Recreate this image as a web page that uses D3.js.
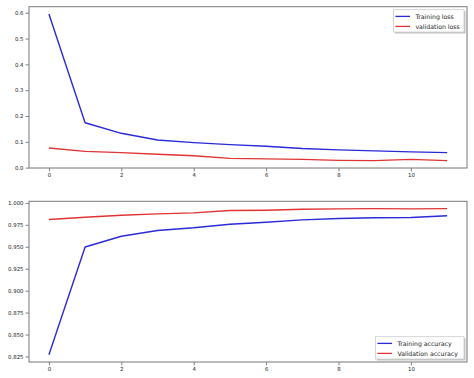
<!DOCTYPE html>
<html>
<head>
<meta charset="utf-8">
<script src="https://cdn.jsdelivr.net/npm/d3@7"></script>
<style>
  html, body { margin: 0; padding: 0; background: #fff; }
  svg { display: block; }
  text { font-family: "DejaVu Sans", sans-serif; fill: #222; }
</style>
</head>
<body>
<svg id="chart" width="474" height="378"></svg>
<script>
const epochs = [0, 1, 2, 3, 4, 5, 6, 7, 8, 9, 10, 11];
const trainingLoss = [0.595, 0.174, 0.133, 0.107, 0.097, 0.089, 0.083, 0.074, 0.069, 0.065, 0.061, 0.058];
const validationLoss = [0.076, 0.063, 0.058, 0.052, 0.046, 0.036, 0.034, 0.032, 0.028, 0.027, 0.032, 0.027];
const trainingAccuracy = [0.827, 0.9497, 0.962, 0.9686, 0.9716, 0.9757, 0.978, 0.9807, 0.9822, 0.983, 0.9833, 0.9853];
const validationAccuracy = [0.981, 0.9837, 0.986, 0.9875, 0.9886, 0.9913, 0.9916, 0.9928, 0.9932, 0.9935, 0.9932, 0.9935];
const xTicks = [0, 2, 4, 6, 8, 10];
const lossTicks = [0.0, 0.1, 0.2, 0.3, 0.4, 0.5, 0.6];
const accTicks = [0.825, 0.850, 0.875, 0.900, 0.925, 0.950, 0.975, 1.000];

const svg = d3.select("#chart");
const BLUE = "#2a2ad8", RED = "#e03434";

function padded(arrs) {
  const all = arrs.flat();
  const lo = d3.min(all), hi = d3.max(all), m = (hi - lo) * 0.05;
  return [lo - m, hi + m];
}

function panel(opts) {
  const { top, bottom, left, right, series, yTicks, yFmt, legendPos } = opts;
  const g = svg.append("g");
  const x = d3.scaleLinear().domain([-0.55, 11.55]).range([left, right]);
  const y = d3.scaleLinear().domain(padded(series.map(s => s.values))).range([bottom, top]);

  const xa = g.append("g").attr("transform", `translate(0,${bottom})`)
    .call(d3.axisBottom(x).tickValues(xTicks).tickFormat(d3.format("d")).tickSize(3.5).tickPadding(2));
  const ya = g.append("g").attr("transform", `translate(${left},0)`)
    .call(d3.axisLeft(y).tickValues(yTicks).tickFormat(d3.format(yFmt)).tickSize(3.5).tickPadding(2));
  [xa, ya].forEach(a => {
    a.select(".domain").remove();
    a.selectAll(".tick line").attr("stroke", "#666").attr("stroke-width", 0.8);
    a.selectAll(".tick text").style("font-size", "5.4px").style("font-family", "DejaVu Sans").attr("fill", "#222");
  });

  const line = d3.line().x((d, i) => x(epochs[i])).y(d => y(d));
  series.forEach(s => {
    g.append("path").datum(s.values).attr("d", line)
      .attr("fill", "none").attr("stroke", s.color).attr("stroke-width", 1.4)
      .attr("stroke-linejoin", "round");
  });

  g.append("rect").attr("x", left).attr("y", top).attr("width", right - left).attr("height", bottom - top)
    .attr("fill", "none").attr("stroke", "#777").attr("stroke-width", 1);

  // legend
  const fs = 6.2;
  const w = legendPos.w, h = 22.3;
  const lx = right - 3 - w;
  const ly = legendPos.corner === "top" ? top + 3 : bottom - 3 - h;
  const lg = g.append("g");
  lg.append("rect").attr("x", lx + 1.5).attr("y", ly + 1.5).attr("width", w).attr("height", h)
    .attr("fill", "#999").attr("opacity", 0.6);
  lg.append("rect").attr("x", lx).attr("y", ly).attr("width", w).attr("height", h)
    .attr("fill", "#fff").attr("stroke", "#ccc").attr("stroke-width", 0.8);
  series.forEach((s, i) => {
    const ry = ly + 6.7 + i * 10;
    lg.append("line").attr("x1", lx + 2).attr("x2", lx + 16.6).attr("y1", ry).attr("y2", ry)
      .attr("stroke", s.color).attr("stroke-width", 1.3);
    lg.append("text").attr("x", lx + 22).attr("y", ry).attr("dy", "0.35em")
      .style("font-size", fs + "px").text(s.name);
  });
}

panel({
  top: 6.7, bottom: 168, left: 29, right: 467,
  series: [
    { name: "Training loss", values: trainingLoss, color: BLUE },
    { name: "validation loss", values: validationLoss, color: RED }
  ],
  yTicks: lossTicks, yFmt: ".1f",
  legendPos: { corner: "top", w: 70.6 }
});

panel({
  top: 201.3, bottom: 362, left: 29, right: 467,
  series: [
    { name: "Training accuracy", values: trainingAccuracy, color: BLUE },
    { name: "Validation accuracy", values: validationAccuracy, color: RED }
  ],
  yTicks: accTicks, yFmt: ".3f",
  legendPos: { corner: "bottom", w: 88.6 }
});
</script>
</body>
</html>
